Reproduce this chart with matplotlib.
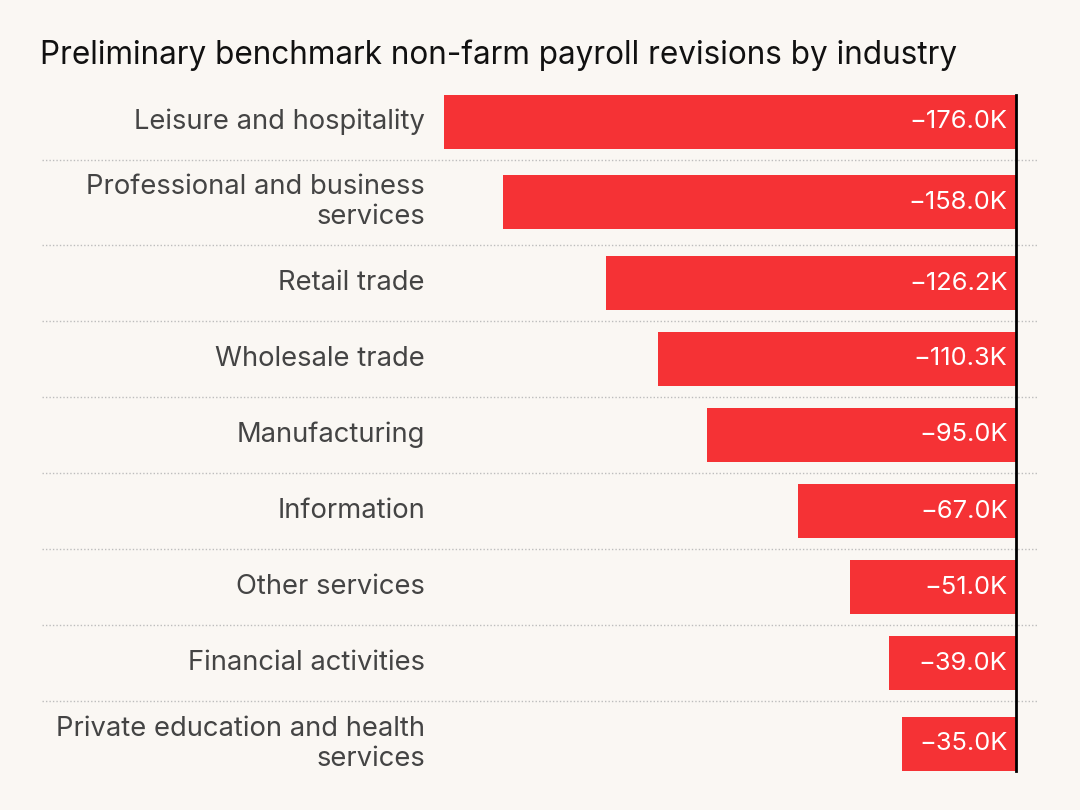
import matplotlib.pyplot as plt
from matplotlib.transforms import blended_transform_factory

# --------------------------------------------------------------------------- #
#  Data
# --------------------------------------------------------------------------- #
INDUSTRIES = [
    "Leisure and hospitality",
    "Professional and business\nservices",
    "Retail trade",
    "Wholesale trade",
    "Manufacturing",
    "Information",
    "Other services",
    "Financial activities",
    "Private education and health\nservices",
]
REVISIONS = [-176.0, -158.0, -126.2, -110.3, -95.0, -67.0, -51.0, -39.0, -35.0]

TITLE = "Preliminary benchmark non-farm payroll revisions by industry"

# --------------------------------------------------------------------------- #
#  Style
# --------------------------------------------------------------------------- #
BG = "#FAF7F3"
BAR = "#F53235"
TEXT = "#444444"
FONT = ["Inter", "DejaVu Sans"]

W, H = 1080, 810
plt.rcParams["font.family"] = FONT

fig = plt.figure(figsize=(W / 100, H / 100), dpi=100)
fig.patch.set_facecolor(BG)

# axes spans from the -176 bar edge to the zero line (pixel layout)
ax_left, ax_right, ax_top, ax_bottom = 444, 1016, 84, 786
ax = fig.add_axes([ax_left / W, 1 - ax_bottom / H,
                   (ax_right - ax_left) / W, (ax_bottom - ax_top) / H])
ax.set_facecolor("none")

# row heights: two-line labels get a taller row
row_h = [76 + 9 * lbl.count("\n") for lbl in INDUSTRIES]
edges = [0]
for h in row_h:
    edges.append(edges[-1] + h)
centers = [(edges[i] + edges[i + 1]) / 2 for i in range(len(row_h))]

ax.barh(centers, REVISIONS, height=54, color=BAR, zorder=2)

ax.set_xlim(min(REVISIONS), 0)
ax.set_ylim(edges[-1], 0)
ax.axis("off")

trans = blended_transform_factory(ax.transAxes, ax.transData)
x_sep0 = (42 - ax_left) / (ax_right - ax_left)
x_sep1 = (1038 - ax_left) / (ax_right - ax_left)
x_lab = (425 - ax_left) / (ax_right - ax_left)

for i, (lbl, val, c) in enumerate(zip(INDUSTRIES, REVISIONS, centers)):
    ax.text(x_lab, c, lbl, transform=trans, ha="right", va="center",
            fontsize=19.7, color=TEXT, linespacing=1.2)
    ax.text(-2.6, c, f"\u2212{abs(val):.1f}K", ha="right", va="center",
            fontsize=18.3, color="white", zorder=3)
    if i < len(INDUSTRIES) - 1:
        ax.plot([x_sep0, x_sep1], [edges[i + 1]] * 2, transform=trans,
                color="#BDBDBD", lw=1, ls=(0, (1, 1.5)), clip_on=False,
                zorder=1)

# zero line from top of first bar to bottom of last bar
ax.plot([0, 0], [centers[0] - 27, centers[-1] + 27], color="black", lw=2,
        zorder=4, clip_on=False)

fig.text(40 / W, 1 - 55 / H, TITLE, ha="left", va="center", fontsize=22.7,
         color="#111111")

fig.savefig("out.png", dpi=100, facecolor=BG)
